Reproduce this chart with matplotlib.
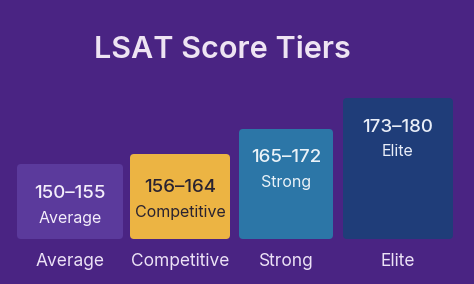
import matplotlib
matplotlib.use("Agg")
import matplotlib.pyplot as plt
from matplotlib.patches import FancyBboxPatch

plt.rcParams['font.family'] = ['Inter', 'DejaVu Sans']

# data
tiers = ["Average", "Competitive", "Strong", "Elite"]
score_ranges = ["150\u2013155", "156\u2013164", "165\u2013172", "173\u2013180"]
bar_heights = [75, 85, 110, 141]   # relative bar heights

# layout / style (pixel units)
centers = [70, 180, 286, 398]
widths = [106, 100, 94, 110]
base = 239
bar_colors = ["#5B3A9C", "#ECB443", "#2C76A7", "#1F3D79"]
num_colors = ["#F4EEFB", "#2A2330", "#EAF2F8", "#E9EEF8"]
bg = "#4A2483"

fig = plt.figure(figsize=(4.74, 2.84), dpi=100, facecolor=bg)
ax = fig.add_axes([0, 0, 1, 1])
ax.set_facecolor(bg)
ax.set_xlim(0, 474)
ax.set_ylim(284, 0)
ax.axis("off")

ax.text(222, 50, "LSAT Score Tiers", ha="center", va="center",
        fontsize=22, fontweight="semibold", color="#EEE4F3")

for i, tier in enumerate(tiers):
    x0 = centers[i] - widths[i] / 2
    top = base - bar_heights[i]
    box = FancyBboxPatch((x0, top), widths[i], bar_heights[i],
                         boxstyle="round,pad=0,rounding_size=4",
                         facecolor=bar_colors[i], edgecolor="none")
    ax.add_patch(box)
    off = 33 if i == 1 else 29
    ax.text(centers[i], top + off, score_ranges[i], ha="center", va="center",
            fontsize=13.5, fontweight="medium", color=num_colors[i])
    ax.text(centers[i], top + off + 25, tier, ha="center", va="center",
            fontsize=11.5, color=num_colors[i])
    ax.text(centers[i], 262, tier, ha="center", va="center",
            fontsize=12.5, color="#ECE2F6")

fig.savefig("out.png", dpi=100, facecolor=bg)
